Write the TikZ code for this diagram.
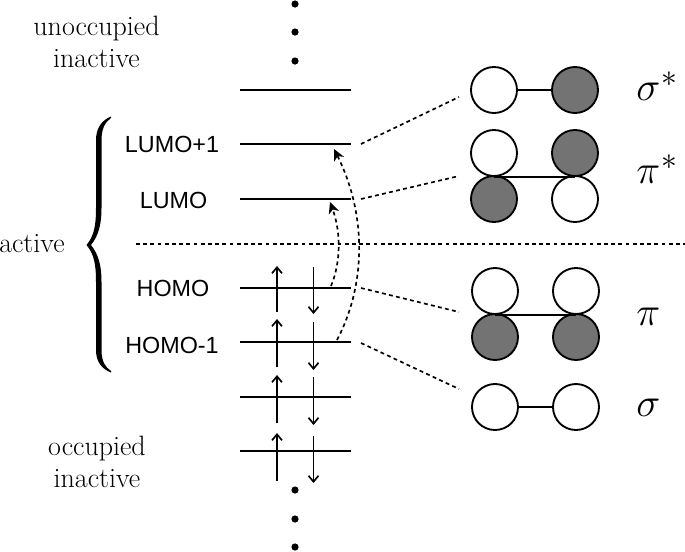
\documentclass[tikz,border=0pt]{standalone}
\usepackage{fontspec}
\usepackage{graphicx}
\usetikzlibrary{arrows.meta}
\newfontfamily\labsans{Liberation Sans}
\newcommand{\bigsym}[1]{\scalebox{1.22}{$#1$}}
\newcommand{\starmark}{\hspace{0.02em}\raisebox{0.29em}{\scalebox{0.95}{$*$}}}
\tikzset{
  x=0.75pt,y=-0.75pt,
  level/.style={line width=1.3pt},
  spin/.style={line width=1.25pt,-{Straight Barb[length=4.5pt,width=7.5pt,line width=1.25pt]}},
  link/.style={line width=1.25pt,dash pattern=on 2.9pt off 2.5pt},
  hop/.style={line width=1.25pt,dash pattern=on 2.9pt off 2.5pt,-{Stealth[length=8.5pt,width=8pt,inset=2.5pt]}},
  lobe/.style={circle,draw,line width=1.4pt,minimum size=34.5pt,inner sep=0pt,fill=white},
  dark/.style={lobe,fill=black!55},
  bond/.style={line width=1.35pt},
  dotn/.style={circle,fill=black,inner sep=0pt,minimum size=5.4pt},
  serifl/.style={align=center,font=\fontsize{21}{24.2}\selectfont,inner sep=0pt},
  sansl/.style={font=\labsans\fontsize{17.5}{20}\selectfont,inner sep=0pt},
  greek/.style={font=\fontsize{34}{38}\selectfont,inner sep=0pt,anchor=base west}
}
\begin{document}
\begin{tikzpicture}
\useasboundingbox (0,0) rectangle (685,551);
\fill[white] (0,0) rectangle (685,551);
% dots
\foreach \n/\y in {a/4,b/32,c/61,d/490,e/519,f/547}
  \node[dotn] (dot\n) at (295,\y) {};
% levels
\foreach \n/\y in {v/90,lp/144,l/199,h/288,hm/342,o/397,p/451}{
  \coordinate (\n L) at (240,\y);
  \coordinate (\n R) at (351,\y);
  \draw[level] (\n L) -- (\n R);
}
% spins
\foreach \n/\u/\d in {a/312/266,b/367/319,c/423/375,d/481/433}{
  \coordinate (up\n s) at (277,\u);
  \coordinate (up\n e) at (277,\d);
  \draw[spin] (up\n s) -- (up\n e);
}
\foreach \n/\u/\d in {a/267/314,b/322/370,c/377/425,d/436/483}{
  \coordinate (dn\n s) at (313.5,\u);
  \coordinate (dn\n e) at (313.5,\d);
  \draw[spin] (dn\n s) -- (dn\n e);
}
% labels
\node[serifl] (unocc) at (96.5,42) {unoccupied\\inactive};
\node[serifl] (occ) at (97,462) {occupied\\inactive};
\node[serifl,anchor=base west] (act) at (-1,252) {active};
\node[sansl] (tlp) at (172,144) {LUMO+1};
\node[sansl] (tl) at (173.5,200) {LUMO};
\node[sansl] (th) at (173,288.5) {HOMO};
\node[sansl] (thm) at (172,345) {HOMO-1};
% brace
\fill (111,116.5) .. controls (102,120) and (96,128) .. (96,140)
  -- (96,208) .. controls (96,226) and (94,236) .. (86.5,245)
  .. controls (94,254) and (96,264) .. (96,282)
  -- (96,350) .. controls (96,362) and (102,369) .. (111,372.5)
  -- (111,371) .. controls (105,367) and (101.5,361) .. (101.5,350)
  -- (101.5,282) .. controls (101.5,264) and (98,254) .. (91,245)
  .. controls (98,236) and (101.5,226) .. (101.5,208)
  -- (101.5,140) .. controls (101.5,129) and (105,122) .. (111,118) -- cycle;
% separator
\coordinate (sepL) at (136,244);
\coordinate (sepR) at (685,244);
\draw[link] (sepL) -- (sepR);
% transitions
\coordinate (hA) at (331,286);
\coordinate (lA) at (330,202);
\coordinate (hmA) at (337,340);
\coordinate (lpA) at (334,149);
\draw[hop] (hA) .. controls (341,262) and (341,232) .. (lA);
\draw[hop] (hmA) .. controls (366,285) and (367,215) .. (lpA);
% orbitals
\node[lobe] (s1a) at (494,90) {};
\node[dark] (s1b) at (575,90) {};
\draw[bond] (s1a) -- (s1b);
\node[lobe] (p1a) at (494,153) {};
\node[dark] (p1b) at (575,153) {};
\node[dark] (p1c) at (494,199) {};
\node[lobe] (p1d) at (575,199) {};
\draw[bond] (p1a.south) -- (p1b.south);
\node[lobe] (p2a) at (495,291) {};
\node[lobe] (p2b) at (576,291) {};
\node[dark] (p2c) at (495,337) {};
\node[dark] (p2d) at (576,337) {};
\draw[bond] (p2a.south) -- (p2b.south);
\node[lobe] (s2a) at (495,407) {};
\node[lobe] (s2b) at (576,407) {};
\draw[bond] (s2a) -- (s2b);
% mapping lines
\coordinate (m1) at (459,97);
\coordinate (m2) at (459,176);
\coordinate (m3) at (459,312);
\coordinate (m4) at (459,389);
\coordinate (n1) at (361,144);
\coordinate (n2) at (361,199);
\coordinate (n3) at (361,288);
\coordinate (n4) at (361,343);
\draw[link] (n1) -- (m1);
\draw[link] (n2) -- (m2);
\draw[link] (n3) -- (m3);
\draw[link] (n4) -- (m4);
% symbols
\node[greek] (gss) at (636,100) {\bigsym{\sigma}\starmark};
\node[greek] (gps) at (636,183) {\bigsym{\pi}\starmark};
\node[greek] (gp) at (636,325) {\bigsym{\pi}};
\node[greek] (gs) at (636,416) {\bigsym{\sigma}};
\end{tikzpicture}
\end{document}
